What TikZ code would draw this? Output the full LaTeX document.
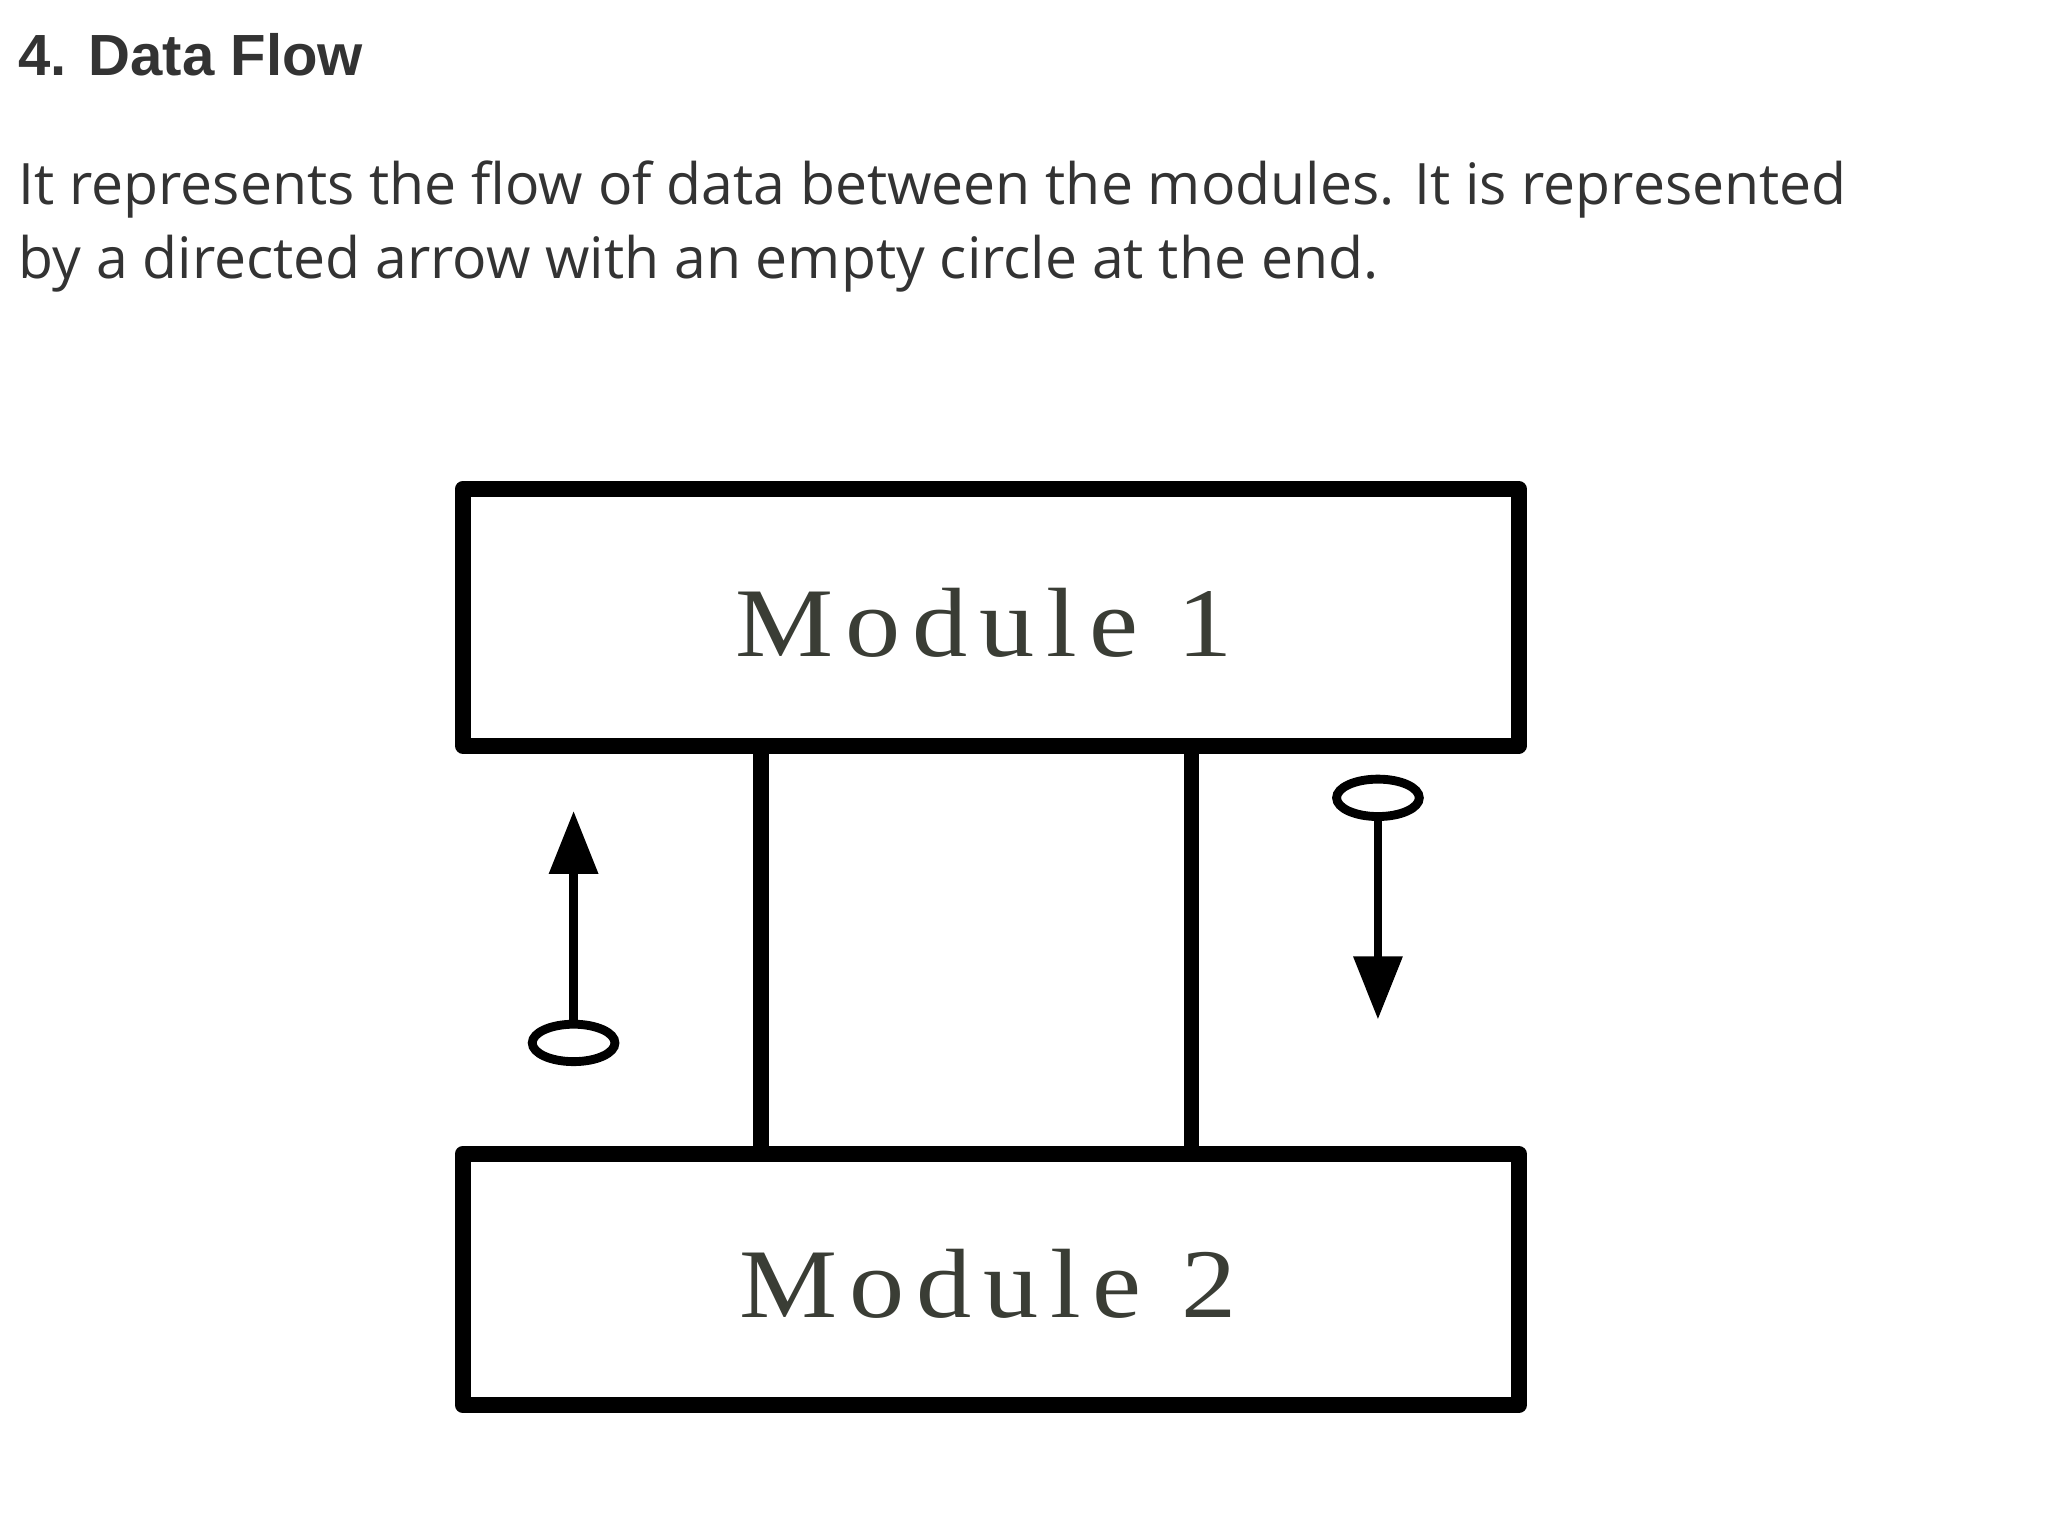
\documentclass[tikz,border=0pt]{standalone}
\usepackage{fontspec}
\setmainfont{Liberation Serif}
\newfontfamily\bodyfont{Open Sans}
\newfontfamily\headfont{Liberation Sans}
\newfontfamily\modfont[LetterSpace=12,FakeStretch=1.12]{Liberation Serif}
\usetikzlibrary{arrows.meta,shapes.geometric}
\definecolor{txt}{HTML}{333333}
\definecolor{modtxt}{HTML}{3A3D35}
\begin{document}
\begin{tikzpicture}[x=0.662pt,y=-0.662pt,
  box/.style={draw=black,line width=8pt,line join=round},
  bar/.style={draw=black,line width=8pt},
  flow/.style={draw=black,line width=4.5pt,-{Triangle[length=32pt,width=24pt]}},
  ring/.style={draw=black,line width=4.5pt,ellipse,minimum width=42pt,minimum height=19pt,inner sep=0pt}]
\useasboundingbox (0,0) rectangle (1571,1178);
\node[anchor=base west,font=\headfont\bfseries\fontsize{29.5}{34}\selectfont,text=txt,inner sep=0pt] (title) at (14,58) {4. Data Flow};
\node[anchor=base west,font=\bodyfont\fontsize{29}{38}\selectfont,text=txt,inner sep=0pt] (p1) at (14,157) {It represents the flow of data between the modules. It is represented};
\node[anchor=base west,font=\bodyfont\fontsize{29}{38}\selectfont,text=txt,inner sep=0pt] (p2) at (14,214) {by a directed arrow with an empty circle at the end.};
\draw[box] (355,375) rectangle (1165,572);
\draw[box] (355,885) rectangle (1165,1078);
\node[font=\modfont\fontsize{50}{55}\selectfont,text=modtxt] (m1) at (755,478) {Module 1};
\node[font=\modfont\fontsize{50}{55}\selectfont,text=modtxt] (m2) at (758,985) {Module 2};
\coordinate (l1) at (584,572); \coordinate (l2) at (584,885);
\coordinate (r1) at (914,572); \coordinate (r2) at (914,885);
\draw[bar] (l1) -- (l2);
\draw[bar] (r1) -- (r2);
\node[ring] (c1) at (440,800) {};
\coordinate (t1) at (440,622);
\draw[flow] (c1.north) -- (t1);
\node[ring] (c2) at (1057,612) {};
\coordinate (t2) at (1057,782);
\draw[flow] (c2.south) -- (t2);
\end{tikzpicture}
\end{document}
